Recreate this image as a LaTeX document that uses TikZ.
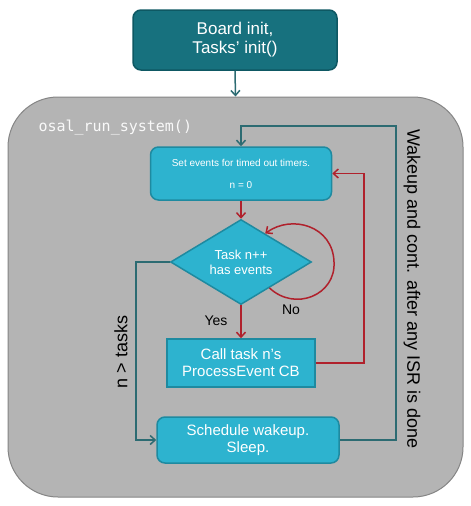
\documentclass[tikz,border=0pt]{standalone}
\usepackage{fontspec}
\setmainfont{Liberation Sans}
\setmonofont{DejaVu Sans Mono}
\usetikzlibrary{shapes.geometric,arrows.meta,calc}
\definecolor{initTeal}{HTML}{17717E}
\definecolor{initEdge}{HTML}{0E5863}
\definecolor{stepCyan}{HTML}{2DB3CF}
\definecolor{stepEdge}{HTML}{1E8AA0}
\definecolor{loopGray}{HTML}{B4B4B4}
\definecolor{loopEdge}{HTML}{858585}
\definecolor{wireTeal}{HTML}{2C6B72}
\definecolor{wireRed}{HTML}{B0212C}
\newcommand\fsize[2]{\fontsize{#1}{#2}\selectfont}
\tikzset{
    stepbox/.style={draw=stepEdge,fill=stepCyan,line width=1.5pt,text=white,align=center,inner sep=0pt},
    tealwire/.style={draw=wireTeal,line width=1.5pt,-{Straight Barb[length=5pt,width=9pt]}},
    redwire/.style={draw=wireRed,line width=1.5pt,-{Straight Barb[length=5pt,width=9pt]}}
}

\begin{document}
\begin{tikzpicture}[x=1pt,y=-1pt]
    \useasboundingbox[fill=white] (0,0) rectangle (471,506);

    %draws the big loop frame:
    \node[draw=loopEdge,fill=loopGray,line width=1pt,rounded corners=50pt,
          minimum width=455pt,minimum height=400pt,inner sep=0pt] (frame) at (235.5,297) {};
    \node[text=white!95!gray,anchor=west,font=\ttfamily\fsize{15}{18}] (osal) at (35,128) {osal\_run\_system()};

    %draws the boxes:
    \node[draw=initEdge,fill=initTeal,line width=1.5pt,rounded corners=8pt,text=white,align=center,
          minimum width=204pt,minimum height=60pt,inner sep=0pt,font=\fsize{17}{19}] (init) at (235,40)
          {Board init,\\Tasks' init()};
    \node[stepbox,rounded corners=8pt,minimum width=181pt,minimum height=53pt,font=\fsize{10}{22}] (timers) at (241,173.5)
          {Set events for timed out timers.\\n = 0};
    \node[stepbox,shape=diamond,minimum width=141pt,minimum height=85pt,aspect=1.66,font=\fsize{13}{15}] (task) at (241,262)
          {Task n++\\has events};
    \node[stepbox,minimum width=148pt,minimum height=48pt,font=\fsize{15}{17}] (call) at (241,363)
          {Call task n's\\ProcessEvent CB};
    \node[stepbox,rounded corners=8pt,minimum width=182pt,minimum height=46pt,font=\fsize{15}{17}] (sleep) at (248,440)
          {Schedule wakeup.\\Sleep.};

    %draws the labels:
    \node[font=\fsize{14}{16}] (yes) at (216,321) {Yes};
    \node[font=\fsize{14}{16}] (no) at (291,310) {No};
    \node[rotate=90,font=\fsize{18}{20}] (ntasks) at (121,352) {n > tasks};
    \node[rotate=-90,font=\fsize{18}{20}] (wakeup) at (412,289) {Wakeup and cont. after any ISR is done};

    %draws the teal connectors:
    \coordinate (wakeTop) at (396,126);
    \coordinate (leftTurn) at (136,262);
    \draw[tealwire] (init.south) -- (frame.north);
    \draw[tealwire] (sleep.east) -| (wakeTop) -| (timers.north);
    \draw[tealwire] (task.west) -- (leftTurn) |- (sleep.west);

    %draws the red connectors:
    \coordinate (redTurn) at (364,173.5);
    \draw[redwire] (timers.south) -- (task.north);
    \draw[redwire] (task.south) -- (call.north);
    \draw[redwire] (call.east) -| (redTurn) -- (timers.east);
    \draw[redwire] ($(task.east)!0.6!(task.south)$) .. controls (295,312) and (336,295) .. (334,262)
                   .. controls (333,226) and (292,214) .. ($(task.east)!0.66!(task.north)$);
\end{tikzpicture}
\end{document}
